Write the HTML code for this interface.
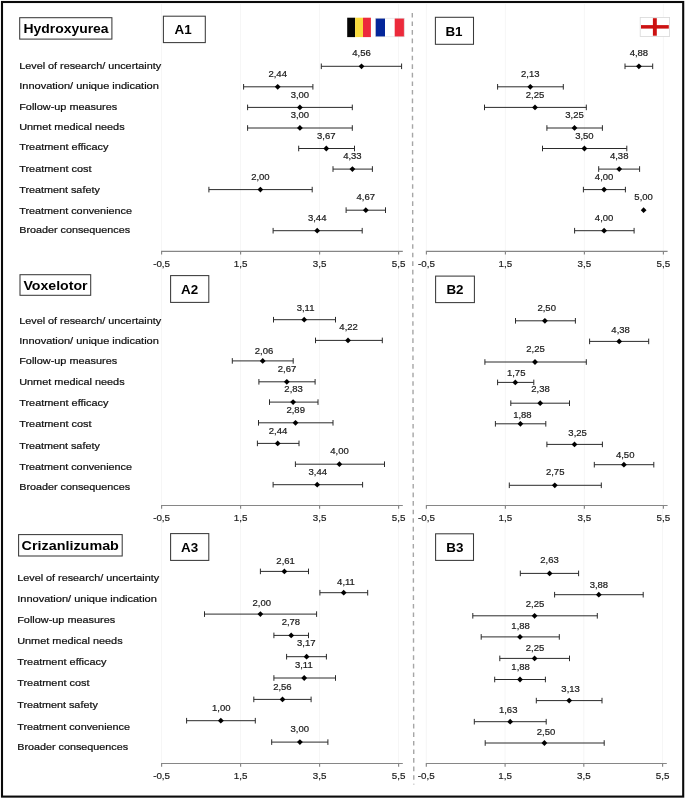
<!DOCTYPE html>
<html lang="en"><head><meta charset="utf-8"><title>Forest plots</title>
<style>
html,body{margin:0;padding:0;background:#fff}
svg{display:block}
text{font-family:"Liberation Sans",Arial,Helvetica,sans-serif}
.cat{font-size:9.9px;fill:#0f0f0f;stroke:#0f0f0f;stroke-width:.22}
.val{font-size:9.5px;fill:#1c1c1c;stroke:#1c1c1c;stroke-width:.22;text-anchor:middle}
.tick{font-size:9.8px;fill:#1c1c1c;stroke:#1c1c1c;stroke-width:.2;text-anchor:middle}
.ttl{font-size:13.6px;font-weight:bold;fill:#000}
.pl{font-size:13.4px;font-weight:bold;fill:#000;text-anchor:middle}
.box{fill:#fff;stroke:#3a3a3a;stroke-width:1.05}
.eb{stroke:#2b2b2b;stroke-width:1;fill:none}
.ax{stroke:#868686;stroke-width:1.15;fill:none}
.gr{stroke:#f6f6f6;stroke-width:1}
.mk{fill:#000}
</style></head><body>
<svg width="685" height="799" viewBox="0 0 685 799">
<rect x="0" y="0" width="685" height="799" fill="#fff"/>
<rect x="2" y="2" width="681.2" height="794.6" fill="none" stroke="#0a0a0a" stroke-width="2.1"/>
<line x1="412.3" y1="12.9" x2="413.8" y2="784.5" stroke="#a6a6a6" stroke-width="1.4" stroke-dasharray="4.6 3.965"/>
<g id="grid1">
<line class="gr" x1="161.6" y1="4" x2="161.6" y2="251.3"/><line class="gr" x1="240.6" y1="4" x2="240.6" y2="251.3"/><line class="gr" x1="319.6" y1="4" x2="319.6" y2="251.3"/><line class="gr" x1="398.6" y1="4" x2="398.6" y2="251.3"/>
<line class="gr" x1="426.4" y1="4" x2="426.4" y2="251.3"/><line class="gr" x1="505.4" y1="4" x2="505.4" y2="251.3"/><line class="gr" x1="584.4" y1="4" x2="584.4" y2="251.3"/><line class="gr" x1="663.4" y1="4" x2="663.4" y2="251.3"/>
</g>
<g id="grid2">
<line class="gr" x1="161.6" y1="251.3" x2="161.6" y2="505.5"/><line class="gr" x1="240.6" y1="251.3" x2="240.6" y2="505.5"/><line class="gr" x1="319.6" y1="251.3" x2="319.6" y2="505.5"/><line class="gr" x1="398.6" y1="251.3" x2="398.6" y2="505.5"/>
<line class="gr" x1="426.4" y1="251.3" x2="426.4" y2="505.5"/><line class="gr" x1="505.4" y1="251.3" x2="505.4" y2="505.5"/><line class="gr" x1="584.4" y1="251.3" x2="584.4" y2="505.5"/><line class="gr" x1="663.4" y1="251.3" x2="663.4" y2="505.5"/>
</g>
<g id="grid3">
<line class="gr" x1="161.6" y1="505.5" x2="161.6" y2="763.5"/><line class="gr" x1="240.6" y1="505.5" x2="240.6" y2="763.5"/><line class="gr" x1="319.6" y1="505.5" x2="319.6" y2="763.5"/><line class="gr" x1="398.6" y1="505.5" x2="398.6" y2="763.5"/>
<line class="gr" x1="426.3" y1="505.5" x2="426.3" y2="763.5"/><line class="gr" x1="505.1" y1="505.5" x2="505.1" y2="763.5"/><line class="gr" x1="583.8" y1="505.5" x2="583.8" y2="763.5"/><line class="gr" x1="662.6" y1="505.5" x2="662.6" y2="763.5"/>
</g>
<g id="panel1">
<rect class="box" x="19.7" y="17.7" width="92.2" height="21.4"/><text class="ttl" x="23.4" y="33.4" textLength="85.2" lengthAdjust="spacingAndGlyphs">Hydroxyurea</text>
<rect class="box" x="163.4" y="16.2" width="41.9" height="26.4"/><text class="pl" x="183.1" y="33.7">A1</text>
<rect class="box" x="435.4" y="17.3" width="38.1" height="27.0"/><text class="pl" x="454.0" y="35.5">B1</text>
<text class="cat" x="19.2" y="69.1" textLength="141.9" lengthAdjust="spacingAndGlyphs">Level of research/ uncertainty</text>
<text class="cat" x="19.2" y="89.2" textLength="139.7" lengthAdjust="spacingAndGlyphs">Innovation/ unique indication</text>
<text class="cat" x="19.2" y="109.6" textLength="98.0" lengthAdjust="spacingAndGlyphs">Follow-up measures</text>
<text class="cat" x="19.2" y="129.9" textLength="105.4" lengthAdjust="spacingAndGlyphs">Unmet medical needs</text>
<text class="cat" x="19.2" y="150.4" textLength="89.2" lengthAdjust="spacingAndGlyphs">Treatment efficacy</text>
<text class="cat" x="19.2" y="171.5" textLength="72.4" lengthAdjust="spacingAndGlyphs">Treatment cost</text>
<text class="cat" x="19.2" y="192.6" textLength="80.6" lengthAdjust="spacingAndGlyphs">Treatment safety</text>
<text class="cat" x="19.2" y="213.7" textLength="112.9" lengthAdjust="spacingAndGlyphs">Treatment convenience</text>
<text class="cat" x="19.2" y="233.1" textLength="110.9" lengthAdjust="spacingAndGlyphs">Broader consequences</text>
<path class="eb" d="M321.3 63.5V69.1M401.6 63.5V69.1M321.3 66.3H401.6"/><path class="mk" d="M361.5 63.4L364.4 66.3L361.5 69.2L358.6 66.3Z"/><text class="val" x="361.5" y="56.4">4,56</text>
<path class="eb" d="M243.6 84.0V89.6M312.9 84.0V89.6M243.6 86.8H312.9"/><path class="mk" d="M277.7 83.9L280.6 86.8L277.7 89.8L274.8 86.8Z"/><text class="val" x="277.7" y="76.9">2,44</text>
<path class="eb" d="M247.6 104.6V110.2M352.3 104.6V110.2M247.6 107.4H352.3"/><path class="mk" d="M299.9 104.5L302.8 107.4L299.9 110.3L297.0 107.4Z"/><text class="val" x="299.9" y="97.6">3,00</text>
<path class="eb" d="M247.6 125.2V130.8M352.3 125.2V130.8M247.6 128.0H352.3"/><path class="mk" d="M299.9 125.0L302.8 128.0L299.9 130.8L297.0 128.0Z"/><text class="val" x="299.9" y="118.1">3,00</text>
<path class="eb" d="M298.7 145.7V151.3M354.5 145.7V151.3M298.7 148.5H354.5"/><path class="mk" d="M326.3 145.6L329.2 148.5L326.3 151.4L323.4 148.5Z"/><text class="val" x="326.3" y="138.6">3,67</text>
<path class="eb" d="M333.0 166.2V171.9M372.4 166.2V171.9M333.0 169.1H372.4"/><path class="mk" d="M352.4 166.2L355.3 169.1L352.4 172.0L349.5 169.1Z"/><text class="val" x="352.4" y="159.1">4,33</text>
<path class="eb" d="M208.9 186.8V192.4M312.2 186.8V192.4M208.9 189.6H312.2"/><path class="mk" d="M260.4 186.7L263.2 189.6L260.4 192.5L257.5 189.6Z"/><text class="val" x="260.4" y="179.6">2,00</text>
<path class="eb" d="M346.1 207.3V213.0M385.5 207.3V213.0M346.1 210.2H385.5"/><path class="mk" d="M365.8 207.2L368.7 210.2L365.8 213.1L362.9 210.2Z"/><text class="val" x="365.8" y="200.2">4,67</text>
<path class="eb" d="M273.1 227.9V233.5M362.2 227.9V233.5M273.1 230.7H362.2"/><path class="mk" d="M317.2 227.8L320.1 230.7L317.2 233.6L314.3 230.7Z"/><text class="val" x="317.2" y="220.8">3,44</text>
<path class="ax" d="M161.6 254.6V251.3H402.8M240.6 251.3v3.3M319.6 251.3v3.3M398.6 251.3v3.3"/>
<text class="tick" x="161.6" y="266.9">-0,5</text><text class="tick" x="240.6" y="266.9">1,5</text><text class="tick" x="319.6" y="266.9">3,5</text><text class="tick" x="398.6" y="266.9">5,5</text>
<path class="eb" d="M625.0 63.5V69.1M652.7 63.5V69.1M625.0 66.3H652.7"/><path class="mk" d="M638.9 63.4L641.8 66.3L638.9 69.2L636.0 66.3Z"/><text class="val" x="638.9" y="56.4">4,88</text>
<path class="eb" d="M497.6 84.0V89.6M563.3 84.0V89.6M497.6 86.8H563.3"/><path class="mk" d="M530.3 83.9L533.2 86.8L530.3 89.8L527.4 86.8Z"/><text class="val" x="530.3" y="76.9">2,13</text>
<path class="eb" d="M484.5 104.6V110.2M586.3 104.6V110.2M484.5 107.4H586.3"/><path class="mk" d="M535.0 104.5L537.9 107.4L535.0 110.3L532.1 107.4Z"/><text class="val" x="535.0" y="97.6">2,25</text>
<path class="eb" d="M546.9 125.2V130.8M602.4 125.2V130.8M546.9 128.0H602.4"/><path class="mk" d="M574.5 125.0L577.4 128.0L574.5 130.8L571.6 128.0Z"/><text class="val" x="574.5" y="118.1">3,25</text>
<path class="eb" d="M542.5 145.7V151.3M626.8 145.7V151.3M542.5 148.5H626.8"/><path class="mk" d="M584.4 145.6L587.3 148.5L584.4 151.4L581.5 148.5Z"/><text class="val" x="584.4" y="138.6">3,50</text>
<path class="eb" d="M598.7 166.2V171.9M639.6 166.2V171.9M598.7 169.1H639.6"/><path class="mk" d="M619.2 166.2L622.1 169.1L619.2 172.0L616.3 169.1Z"/><text class="val" x="619.2" y="159.1">4,38</text>
<path class="eb" d="M583.4 186.8V192.4M625.4 186.8V192.4M583.4 189.6H625.4"/><path class="mk" d="M604.1 186.7L607.0 189.6L604.1 192.5L601.2 189.6Z"/><text class="val" x="604.1" y="179.6">4,00</text>
<path class="mk" d="M643.6 207.2L646.5 210.2L643.6 213.1L640.8 210.2Z"/><text class="val" x="643.6" y="200.2">5,00</text>
<path class="eb" d="M574.6 227.9V233.5M634.1 227.9V233.5M574.6 230.7H634.1"/><path class="mk" d="M604.1 227.8L607.0 230.7L604.1 233.6L601.2 230.7Z"/><text class="val" x="604.1" y="220.8">4,00</text>
<path class="ax" d="M426.4 254.6V251.3H667.6M505.4 251.3v3.3M584.4 251.3v3.3M663.4 251.3v3.3"/>
<text class="tick" x="426.4" y="266.9">-0,5</text><text class="tick" x="505.4" y="266.9">1,5</text><text class="tick" x="584.4" y="266.9">3,5</text><text class="tick" x="663.4" y="266.9">5,5</text>
</g>
<g id="panel2">
<rect class="box" x="20.0" y="274.7" width="70.7" height="20.6"/><text class="ttl" x="23.4" y="289.9" textLength="64.2" lengthAdjust="spacingAndGlyphs">Voxelotor</text>
<rect class="box" x="170.6" y="275.6" width="38.2" height="26.8"/><text class="pl" x="189.6" y="293.7">A2</text>
<rect class="box" x="435.6" y="276.1" width="38.8" height="26.5"/><text class="pl" x="455.0" y="293.7">B2</text>
<text class="cat" x="19.2" y="323.8" textLength="141.9" lengthAdjust="spacingAndGlyphs">Level of research/ uncertainty</text>
<text class="cat" x="19.2" y="344.4" textLength="139.7" lengthAdjust="spacingAndGlyphs">Innovation/ unique indication</text>
<text class="cat" x="19.2" y="364.4" textLength="98.0" lengthAdjust="spacingAndGlyphs">Follow-up measures</text>
<text class="cat" x="19.2" y="384.8" textLength="105.4" lengthAdjust="spacingAndGlyphs">Unmet medical needs</text>
<text class="cat" x="19.2" y="405.9" textLength="89.2" lengthAdjust="spacingAndGlyphs">Treatment efficacy</text>
<text class="cat" x="19.2" y="427" textLength="72.4" lengthAdjust="spacingAndGlyphs">Treatment cost</text>
<text class="cat" x="19.2" y="448.5" textLength="80.6" lengthAdjust="spacingAndGlyphs">Treatment safety</text>
<text class="cat" x="19.2" y="469.9" textLength="112.9" lengthAdjust="spacingAndGlyphs">Treatment convenience</text>
<text class="cat" x="19.2" y="489.5" textLength="110.9" lengthAdjust="spacingAndGlyphs">Broader consequences</text>
<path class="eb" d="M273.5 316.9V322.5M335.5 316.9V322.5M273.5 319.7H335.5"/><path class="mk" d="M304.2 316.8L307.1 319.7L304.2 322.6L301.3 319.7Z"/><text class="val" x="305.6" y="310.7">3,11</text>
<path class="eb" d="M315.5 337.6V343.2M382.3 337.6V343.2M315.5 340.4H382.3"/><path class="mk" d="M348.0 337.5L350.9 340.4L348.0 343.3L345.1 340.4Z"/><text class="val" x="348.6" y="330.3">4,22</text>
<path class="eb" d="M232.3 358.1V363.7M293.2 358.1V363.7M232.3 360.9H293.2"/><path class="mk" d="M262.7 358.0L265.6 360.9L262.7 363.8L259.8 360.9Z"/><text class="val" x="264.0" y="354.1">2,06</text>
<path class="eb" d="M258.9 379.0V384.6M315.1 379.0V384.6M258.9 381.8H315.1"/><path class="mk" d="M286.8 378.9L289.7 381.8L286.8 384.7L283.9 381.8Z"/><text class="val" x="287.0" y="371.5">2,67</text>
<path class="eb" d="M269.5 399.3V404.9M318.0 399.3V404.9M269.5 402.1H318.0"/><path class="mk" d="M293.1 399.2L296.0 402.1L293.1 405.0L290.2 402.1Z"/><text class="val" x="293.6" y="391.8">2,83</text>
<path class="eb" d="M258.5 420.0V425.6M333.0 420.0V425.6M258.5 422.8H333.0"/><path class="mk" d="M295.5 419.9L298.4 422.8L295.5 425.7L292.6 422.8Z"/><text class="val" x="295.7" y="412.6">2,89</text>
<path class="eb" d="M257.4 440.6V446.2M299.0 440.6V446.2M257.4 443.4H299.0"/><path class="mk" d="M277.7 440.5L280.6 443.4L277.7 446.3L274.8 443.4Z"/><text class="val" x="278.0" y="433.7">2,44</text>
<path class="eb" d="M295.4 461.4V467.0M384.5 461.4V467.0M295.4 464.2H384.5"/><path class="mk" d="M339.4 461.3L342.2 464.2L339.4 467.1L336.5 464.2Z"/><text class="val" x="339.5" y="454.1">4,00</text>
<path class="eb" d="M273.1 481.9V487.5M362.6 481.9V487.5M273.1 484.7H362.6"/><path class="mk" d="M317.2 481.8L320.1 484.7L317.2 487.6L314.3 484.7Z"/><text class="val" x="317.8" y="474.7">3,44</text>
<path class="ax" d="M161.6 508.8V505.5H402.8M240.6 505.5v3.3M319.6 505.5v3.3M398.6 505.5v3.3"/>
<text class="tick" x="161.6" y="521.1">-0,5</text><text class="tick" x="240.6" y="521.1">1,5</text><text class="tick" x="319.6" y="521.1">3,5</text><text class="tick" x="398.6" y="521.1">5,5</text>
<path class="eb" d="M515.5 318.0V323.6M575.4 318.0V323.6M515.5 320.8H575.4"/><path class="mk" d="M544.9 317.9L547.8 320.8L544.9 323.7L542.0 320.8Z"/><text class="val" x="546.7" y="310.7">2,50</text>
<path class="eb" d="M589.6 338.6V344.2M648.7 338.6V344.2M589.6 341.4H648.7"/><path class="mk" d="M619.2 338.5L622.1 341.4L619.2 344.3L616.3 341.4Z"/><text class="val" x="620.6" y="333.3">4,38</text>
<path class="eb" d="M484.9 359.2V364.8M586.3 359.2V364.8M484.9 362.0H586.3"/><path class="mk" d="M535.0 359.1L537.9 362.0L535.0 364.9L532.1 362.0Z"/><text class="val" x="535.5" y="351.6">2,25</text>
<path class="eb" d="M497.6 379.6V385.2M533.8 379.6V385.2M497.6 382.4H533.8"/><path class="mk" d="M515.3 379.5L518.2 382.4L515.3 385.3L512.4 382.4Z"/><text class="val" x="516.2" y="375.7">1,75</text>
<path class="eb" d="M510.8 400.4V406.0M569.5 400.4V406.0M510.8 403.2H569.5"/><path class="mk" d="M540.2 400.3L543.1 403.2L540.2 406.1L537.3 403.2Z"/><text class="val" x="540.5" y="392.3">2,38</text>
<path class="eb" d="M495.4 421.0V426.6M545.8 421.0V426.6M495.4 423.8H545.8"/><path class="mk" d="M520.4 420.9L523.3 423.8L520.4 426.7L517.5 423.8Z"/><text class="val" x="522.4" y="418.1">1,88</text>
<path class="eb" d="M546.9 441.6V447.2M602.4 441.6V447.2M546.9 444.4H602.4"/><path class="mk" d="M574.5 441.5L577.4 444.4L574.5 447.3L571.6 444.4Z"/><text class="val" x="577.6" y="436.2">3,25</text>
<path class="eb" d="M594.3 461.9V467.5M653.8 461.9V467.5M594.3 464.7H653.8"/><path class="mk" d="M623.9 461.8L626.8 464.7L623.9 467.6L621.0 464.7Z"/><text class="val" x="625.2" y="457.8">4,50</text>
<path class="eb" d="M509.3 482.5V488.1M601.3 482.5V488.1M509.3 485.3H601.3"/><path class="mk" d="M554.8 482.4L557.7 485.3L554.8 488.2L551.9 485.3Z"/><text class="val" x="555.2" y="474.9">2,75</text>
<path class="ax" d="M426.4 508.8V505.5H667.6M505.4 505.5v3.3M584.4 505.5v3.3M663.4 505.5v3.3"/>
<text class="tick" x="426.4" y="521.1">-0,5</text><text class="tick" x="505.4" y="521.1">1,5</text><text class="tick" x="584.4" y="521.1">3,5</text><text class="tick" x="663.4" y="521.1">5,5</text>
</g>
<g id="panel3">
<rect class="box" x="18.6" y="534.6" width="103.6" height="21.4"/><text class="ttl" x="21.6" y="549.9" textLength="97.3" lengthAdjust="spacingAndGlyphs">Crizanlizumab</text>
<rect class="box" x="170.6" y="533.6" width="38.2" height="26.8"/><text class="pl" x="189.6" y="551.7">A3</text>
<rect class="box" x="435.6" y="533.8" width="37.9" height="26.6"/><text class="pl" x="454.9" y="551.7">B3</text>
<text class="cat" x="17.2" y="581.3" textLength="141.9" lengthAdjust="spacingAndGlyphs">Level of research/ uncertainty</text>
<text class="cat" x="17.2" y="602.1" textLength="139.7" lengthAdjust="spacingAndGlyphs">Innovation/ unique indication</text>
<text class="cat" x="17.2" y="622.7" textLength="98.0" lengthAdjust="spacingAndGlyphs">Follow-up measures</text>
<text class="cat" x="17.2" y="643.6" textLength="105.4" lengthAdjust="spacingAndGlyphs">Unmet medical needs</text>
<text class="cat" x="17.2" y="664.8" textLength="89.2" lengthAdjust="spacingAndGlyphs">Treatment efficacy</text>
<text class="cat" x="17.2" y="686.4" textLength="72.4" lengthAdjust="spacingAndGlyphs">Treatment cost</text>
<text class="cat" x="17.2" y="708" textLength="80.6" lengthAdjust="spacingAndGlyphs">Treatment safety</text>
<text class="cat" x="17.2" y="729.8" textLength="112.9" lengthAdjust="spacingAndGlyphs">Treatment convenience</text>
<text class="cat" x="17.2" y="749.7" textLength="110.9" lengthAdjust="spacingAndGlyphs">Broader consequences</text>
<path class="eb" d="M260.4 568.6V574.2M308.5 568.6V574.2M260.4 571.4H308.5"/><path class="mk" d="M284.4 568.5L287.3 571.4L284.4 574.3L281.5 571.4Z"/><text class="val" x="285.6" y="564.2">2,61</text>
<path class="eb" d="M319.9 589.9V595.5M367.7 589.9V595.5M319.9 592.7H367.7"/><path class="mk" d="M343.7 589.8L346.6 592.7L343.7 595.6L340.8 592.7Z"/><text class="val" x="346.0" y="584.8">4,11</text>
<path class="eb" d="M204.5 611.3V616.9M316.6 611.3V616.9M204.5 614.1H316.6"/><path class="mk" d="M260.4 611.2L263.2 614.1L260.4 617.0L257.5 614.1Z"/><text class="val" x="261.8" y="605.9">2,00</text>
<path class="eb" d="M273.9 632.6V638.2M308.5 632.6V638.2M273.9 635.4H308.5"/><path class="mk" d="M291.2 632.5L294.1 635.4L291.2 638.3L288.3 635.4Z"/><text class="val" x="290.9" y="625">2,78</text>
<path class="eb" d="M286.6 653.9V659.5M326.4 653.9V659.5M286.6 656.7H326.4"/><path class="mk" d="M306.6 653.8L309.5 656.7L306.6 659.6L303.7 656.7Z"/><text class="val" x="306.3" y="646.3">3,17</text>
<path class="eb" d="M273.9 675.2V680.8M335.5 675.2V680.8M273.9 678.0H335.5"/><path class="mk" d="M304.2 675.1L307.1 678.0L304.2 680.9L301.3 678.0Z"/><text class="val" x="303.8" y="668.1">3,11</text>
<path class="eb" d="M253.8 696.6V702.2M311.1 696.6V702.2M253.8 699.4H311.1"/><path class="mk" d="M282.5 696.5L285.4 699.4L282.5 702.3L279.6 699.4Z"/><text class="val" x="282.4" y="689.7">2,56</text>
<path class="eb" d="M186.6 717.9V723.5M255.3 717.9V723.5M186.6 720.7H255.3"/><path class="mk" d="M220.8 717.8L223.8 720.7L220.8 723.6L217.9 720.7Z"/><text class="val" x="221.3" y="710.8">1,00</text>
<path class="eb" d="M271.7 739.3V744.9M327.9 739.3V744.9M271.7 742.1H327.9"/><path class="mk" d="M299.9 739.2L302.8 742.1L299.9 745.0L297.0 742.1Z"/><text class="val" x="299.8" y="732.1">3,00</text>
<path class="ax" d="M161.6 766.8V763.5H402.8M240.6 763.5v3.3M319.6 763.5v3.3M398.6 763.5v3.3"/>
<text class="tick" x="161.6" y="779.1">-0,5</text><text class="tick" x="240.6" y="779.1">1,5</text><text class="tick" x="319.6" y="779.1">3,5</text><text class="tick" x="398.6" y="779.1">5,5</text>
<path class="eb" d="M520.3 570.6V576.2M578.6 570.6V576.2M520.3 573.4H578.6"/><path class="mk" d="M549.6 570.5L552.5 573.4L549.6 576.3L546.7 573.4Z"/><text class="val" x="549.5" y="563.4">2,63</text>
<path class="eb" d="M554.6 591.9V597.5M643.2 591.9V597.5M554.6 594.7H643.2"/><path class="mk" d="M598.8 591.8L601.7 594.7L598.8 597.6L595.9 594.7Z"/><text class="val" x="598.9" y="588">3,88</text>
<path class="eb" d="M472.8 613.0V618.6M597.3 613.0V618.6M472.8 615.8H597.3"/><path class="mk" d="M534.6 612.9L537.5 615.8L534.6 618.7L531.7 615.8Z"/><text class="val" x="535.0" y="606.6">2,25</text>
<path class="eb" d="M481.2 634.1V639.7M559.3 634.1V639.7M481.2 636.9H559.3"/><path class="mk" d="M520.0 634.0L522.9 636.9L520.0 639.8L517.1 636.9Z"/><text class="val" x="520.6" y="628.9">1,88</text>
<path class="eb" d="M499.8 655.6V661.2M569.5 655.6V661.2M499.8 658.4H569.5"/><path class="mk" d="M534.6 655.5L537.5 658.4L534.6 661.3L531.7 658.4Z"/><text class="val" x="535.0" y="650.5">2,25</text>
<path class="eb" d="M494.7 676.7V682.3M545.4 676.7V682.3M494.7 679.5H545.4"/><path class="mk" d="M520.0 676.6L522.9 679.5L520.0 682.4L517.1 679.5Z"/><text class="val" x="520.6" y="670.3">1,88</text>
<path class="eb" d="M536.3 697.8V703.4M602.0 697.8V703.4M536.3 700.6H602.0"/><path class="mk" d="M569.2 697.7L572.1 700.6L569.2 703.5L566.3 700.6Z"/><text class="val" x="570.6" y="692.4">3,13</text>
<path class="eb" d="M474.3 718.9V724.5M546.2 718.9V724.5M474.3 721.7H546.2"/><path class="mk" d="M510.2 718.8L513.1 721.7L510.2 724.6L507.3 721.7Z"/><text class="val" x="508.2" y="713.3">1,63</text>
<path class="eb" d="M485.2 740.2V745.8M604.2 740.2V745.8M485.2 743.0H604.2"/><path class="mk" d="M544.4 740.1L547.3 743.0L544.4 745.9L541.5 743.0Z"/><text class="val" x="546.0" y="734.6">2,50</text>
<path class="ax" d="M426.3 766.8V763.5H666.8M505.1 763.5v3.3M583.8 763.5v3.3M662.6 763.5v3.3"/>
<text class="tick" x="426.3" y="779.1">-0,5</text><text class="tick" x="505.1" y="779.1">1,5</text><text class="tick" x="583.8" y="779.1">3,5</text><text class="tick" x="662.6" y="779.1">5,5</text>
</g>
<g id="flags">
<rect x="347.2" y="17.7" width="7.9" height="19.4" fill="#050505"/><rect x="355.1" y="17.7" width="7.9" height="19.4" fill="#f9db3d"/><rect x="363" y="17.7" width="7.9" height="19.4" fill="#ec2a3b"/>
<rect x="375.4" y="18.2" width="9.6" height="18.6" fill="#04269a"/><rect x="385" y="18.2" width="9.7" height="18.6" fill="#fff"/><rect x="394.7" y="18.2" width="9.5" height="18.6" fill="#ec2a3b"/><rect x="375.4" y="18.2" width="28.8" height="18.6" fill="none" stroke="#dcdcdc" stroke-width="0.6"/>
<rect x="640.2" y="17.4" width="29.4" height="19" fill="#fff" stroke="#d8d8d8" stroke-width="0.8"/><rect x="652.9" y="18.2" width="3.9" height="17.5" fill="#cc1111"/><rect x="641" y="25.1" width="27.8" height="3.5" fill="#cc1111"/>
</g>
</svg>
</body></html>
